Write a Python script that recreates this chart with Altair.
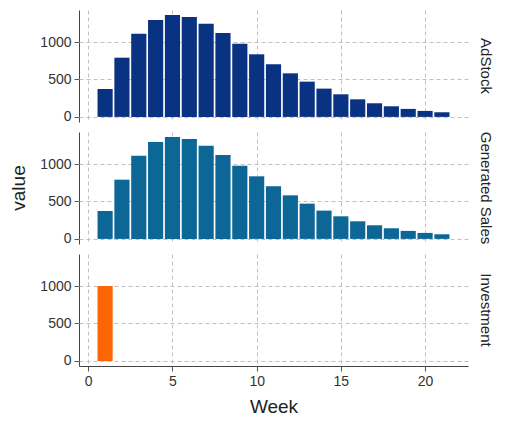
import altair as alt
import pandas as pd

weeks = list(range(1, 22))
adstock = [373, 791, 1111, 1293, 1360, 1333, 1244, 1120, 978, 836, 702, 582,
           471, 378, 302, 235, 182, 142, 107, 80, 62]
generated_sales = [373, 791, 1111, 1293, 1360, 1333, 1244, 1120, 978, 836, 702, 582,
                   471, 378, 302, 235, 182, 142, 107, 80, 62]
investment_weeks = [1]
investment = [1000]

series_names = ["AdStock", "Generated Sales", "Investment"]
series_colors = ["#0a3282", "#0c6796", "#fb6503"]

df = pd.concat([
    pd.DataFrame({"Week": weeks, "series": "AdStock", "value": adstock}),
    pd.DataFrame({"Week": weeks, "series": "Generated Sales", "value": generated_sales}),
    pd.DataFrame({"Week": investment_weeks, "series": "Investment", "value": investment}),
])

font = "Liberation Sans"

bars = alt.Chart(df).transform_calculate(
    w0="datum.Week - 0.45",
    w1="datum.Week + 0.45",
).mark_bar(cornerRadius=0).encode(
    x=alt.X("w0:Q", title="Week",
            scale=alt.Scale(domain=[-0.55, 22.55], nice=False, zero=False),
            axis=alt.Axis(values=[0, 5, 10, 15, 20], titlePadding=9)),
    x2="w1:Q",
    y=alt.Y("value:Q", title=None,
            scale=alt.Scale(domain=[-68, 1428], nice=False),
            axis=alt.Axis(values=[0, 500, 1000], format="d")),
    y2=alt.datum(0),
    color=alt.Color("series:N", legend=None,
                    scale=alt.Scale(domain=series_names, range=series_colors)),
).properties(width=389, height=112)

chart = bars.facet(
    row=alt.Row("series:N", title="value",
                header=alt.Header(labelOrient="right", labelAngle=90,
                                  labelFont=font, labelFontSize=15,
                                  labelColor="#222", labelPadding=10,
                                  titleOrient="left", titleFont=font,
                                  titleFontSize=19, titleFontWeight="normal",
                                  titleColor="#222", titlePadding=0)),
    spacing=10,
).configure_axis(
    labelFont=font, labelFontSize=14, labelColor="#333",
    titleFont=font, titleFontSize=19, titleFontWeight="normal", titleColor="#222",
    domainColor="#444", tickColor="#555", tickSize=5, labelPadding=3,
    gridColor="#c0c0c0", gridDash=[4, 3], gridWidth=1,
).configure_view(
    stroke=None
).properties(
    padding={"left": 2, "top": 2, "right": 5, "bottom": 5}
)

chart.save("out.html", embed_options={"renderer": "svg", "actions": False})
